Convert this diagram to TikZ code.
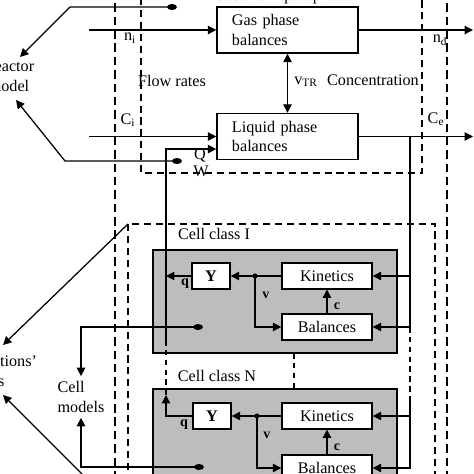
\documentclass[tikz,border=0pt]{standalone}
\usepackage{fontspec}
\setmainfont{Liberation Serif}
\newcommand*{\plainfont}{\fontsize{11.5}{14}\selectfont}
\newcommand*{\tagfont}{\fontsize{10}{12}\selectfont\bfseries}
\definecolor{cellgrey}{gray}{0.74}
\usetikzlibrary{arrows.meta}
\usetikzlibrary{positioning}
\usetikzlibrary{shapes.geometric}
\tikzstyle{base}=[x=0.025cm, y=-0.025cm, line width=0.9pt, font=\plainfont, >={Triangle[length=6pt, width=6pt]}]
\tikzstyle{block}=[draw, fill=white, inner sep=0pt, line width=1pt]
\tikzstyle{phasebox}=[block, minimum width=3.525cm, minimum height=1.15cm, text width=2.775cm, inner xsep=0.375cm, align=left]
\tikzstyle{cellbox}=[block, minimum width=2.25cm, minimum height=0.64cm]
\tikzstyle{ybox}=[block, minimum width=0.95cm, minimum height=0.64cm, font=\plainfont\bfseries]
\tikzstyle{bigdot}=[fill, ellipse, minimum width=0.25cm, minimum height=0.15cm, inner sep=0pt]
\tikzstyle{joint}=[fill, circle, minimum size=0.13cm, inner sep=0pt]
\tikzstyle{smalltag}=[font=\tagfont, inner sep=0pt]
\tikzstyle{outerdash}=[line width=1.8pt, dash pattern=on 6pt off 3.5pt]
\tikzstyle{innerdash}=[line width=1.2pt, dash pattern=on 5pt off 3.5pt]
\tikzstyle{linkdash}=[line width=0.8pt, dash pattern=on 4pt off 3pt]

\begin{document}
\begin{tikzpicture}[base]
    \useasboundingbox (0,0) rectangle (474,474);
    % frames
    \draw [outerdash] (115,-10) -- (115,484);
    \draw [outerdash] (447,-10) -- (447,484);
    \draw [innerdash] (141,-14) rectangle (422,173);
    \draw [innerdash] (128,224) rectangle (435,520);
    \node (glp) at (282,-3) {Gas and liquid phase};
    \node (clI) at (214,234) {Cell class I};
    \node (clN) at (217,376) {Cell class N};
    \draw [fill=cellgrey] (153,250) rectangle (397,353);
    \draw [fill=cellgrey] (153,389) rectangle (397,500);
    \draw [linkdash] (294,353) -- (294,389);

    % gas and liquid phase
    \node [phasebox] (gas) at (287.5,30) {Gas phase\\balances};
    \node [phasebox] (liq) at (287.5,136.5) {Liquid phase\\balances};
    \coordinate (niin) at (89,30);
    \coordinate (ciin) at (89,136.5);
    \coordinate (ndout) at (473,30);
    \coordinate (ceout) at (473,136.5);
    \draw [->] (niin) -- (gas.west);
    \draw [->] (ciin) -- (liq.west);
    \draw [->] (gas.east) -- (ndout);
    \draw [->] (liq.east) -- (ceout);
    \draw [<->] (gas.south) -- (liq.north);
    \node (ni) at (130,38) {n\textsubscript{i}};
    \node (ci) at (128,120) {C\textsubscript{i}};
    \node (nd) at (440,40) {n\textsubscript{d}};
    \node (ce) at (436,119) {C\textsubscript{e}};
    \node (flow) at (172,81) {Flow rates};
    \node (conc) at (373,80) {Concentration};
    \node (vtr) at (306,82) {v\textsubscript{TR}};
    \node (Q) at (200,155) {Q};
    \node (W) at (201,171) {W};

    % reactor model
    \node [align=center] (reactor) at (9,76) {Reactor\\model};
    \node [bigdot] (topdot) at (172,7) {};
    \node [bigdot] (middot) at (177,161) {};
    \coordinate (rcA) at (70,7);
    \coordinate (rcB) at (65,161);
    \coordinate (rtA) at (20,57);
    \coordinate (rtB) at (16,100);
    \draw [->] (topdot.center) -- (rcA) -- (rtA);
    \draw [->] (middot.center) -- (rcB) -- (rtB);

    % cell classes
    \node [cellbox] (kinI) at (327,276) {Kinetics};
    \node [cellbox] (balI) at (327,327) {Balances};
    \node [ybox] (yI) at (211,276) {Y};
    \node [joint] (jI) at (255,276) {};
    \node [cellbox] (kinN) at (327,416) {Kinetics};
    \node [cellbox] (balN) at (327,468) {Balances};
    \node [ybox] (yN) at (212,416) {Y};
    \node [joint] (jN) at (257,416) {};
    \draw [->] (kinI.west) -- (yI.east);
    \draw [->] (jI.center) |- (balI.west);
    \draw [->] (balI.north) -- (kinI.south);
    \draw [->] (kinN.west) -- (yN.east);
    \draw [->] (jN.center) |- (balN.west);
    \draw [->] (balN.north) -- (kinN.south);
    \node [smalltag] (vI) at (266,295) {v};
    \node [smalltag] (cI) at (337,306) {c};
    \node [smalltag] (qI) at (185,284) {q};
    \node [smalltag] (vN) at (267,435) {v};
    \node [smalltag] (cN) at (337,447) {c};
    \node [smalltag] (qN) at (184,425) {q};

    % concentration rail
    \coordinate (railtop) at (410,136.5);
    \coordinate (railmid) at (410,327);
    \coordinate (railN) at (410,400);
    \draw (railtop) -- (railmid);
    \draw [->] (railtop) |- (kinI.east);
    \draw [->] (railtop) |- (balI.east);
    \draw [linkdash] (railmid) -- (railN);
    \draw [->] (railN) |- (kinN.east);
    \draw [->] (railN) |- (balN.east);

    % yield rail
    \coordinate (qrail) at (166,340);
    \coordinate (qtip) at (166,395);
    \draw [->] (qrail) |- (liq.190);
    \draw [->] (yI.west) -- (yI.west -| qrail);
    \draw [linkdash] (qrail) -- (qtip);
    \draw [->] (yN.west) -| (qtip);

    % cell models
    \node [align=left] (cellmod) at (81,397) {Cell\\models};
    \node [bigdot] (dotI) at (198,327) {};
    \node [bigdot] (dotN) at (199,467) {};
    \draw [->] (dotI.center) -| (cellmod.north);
    \draw [->] (dotN.center) -| (cellmod.south);

    % populations
    \node [align=center] (pop) at (-19,371) {Cell populations'\\models};
    \coordinate (cellcorner) at (128,224);
    \coordinate (cellfoot) at (92,484);
    \coordinate (ptA) at (3,345);
    \coordinate (ptB) at (3,395);
    \draw [->] (cellcorner) -- (ptA);
    \draw [->] (cellfoot) -- (ptB);
\end{tikzpicture}
\end{document}
